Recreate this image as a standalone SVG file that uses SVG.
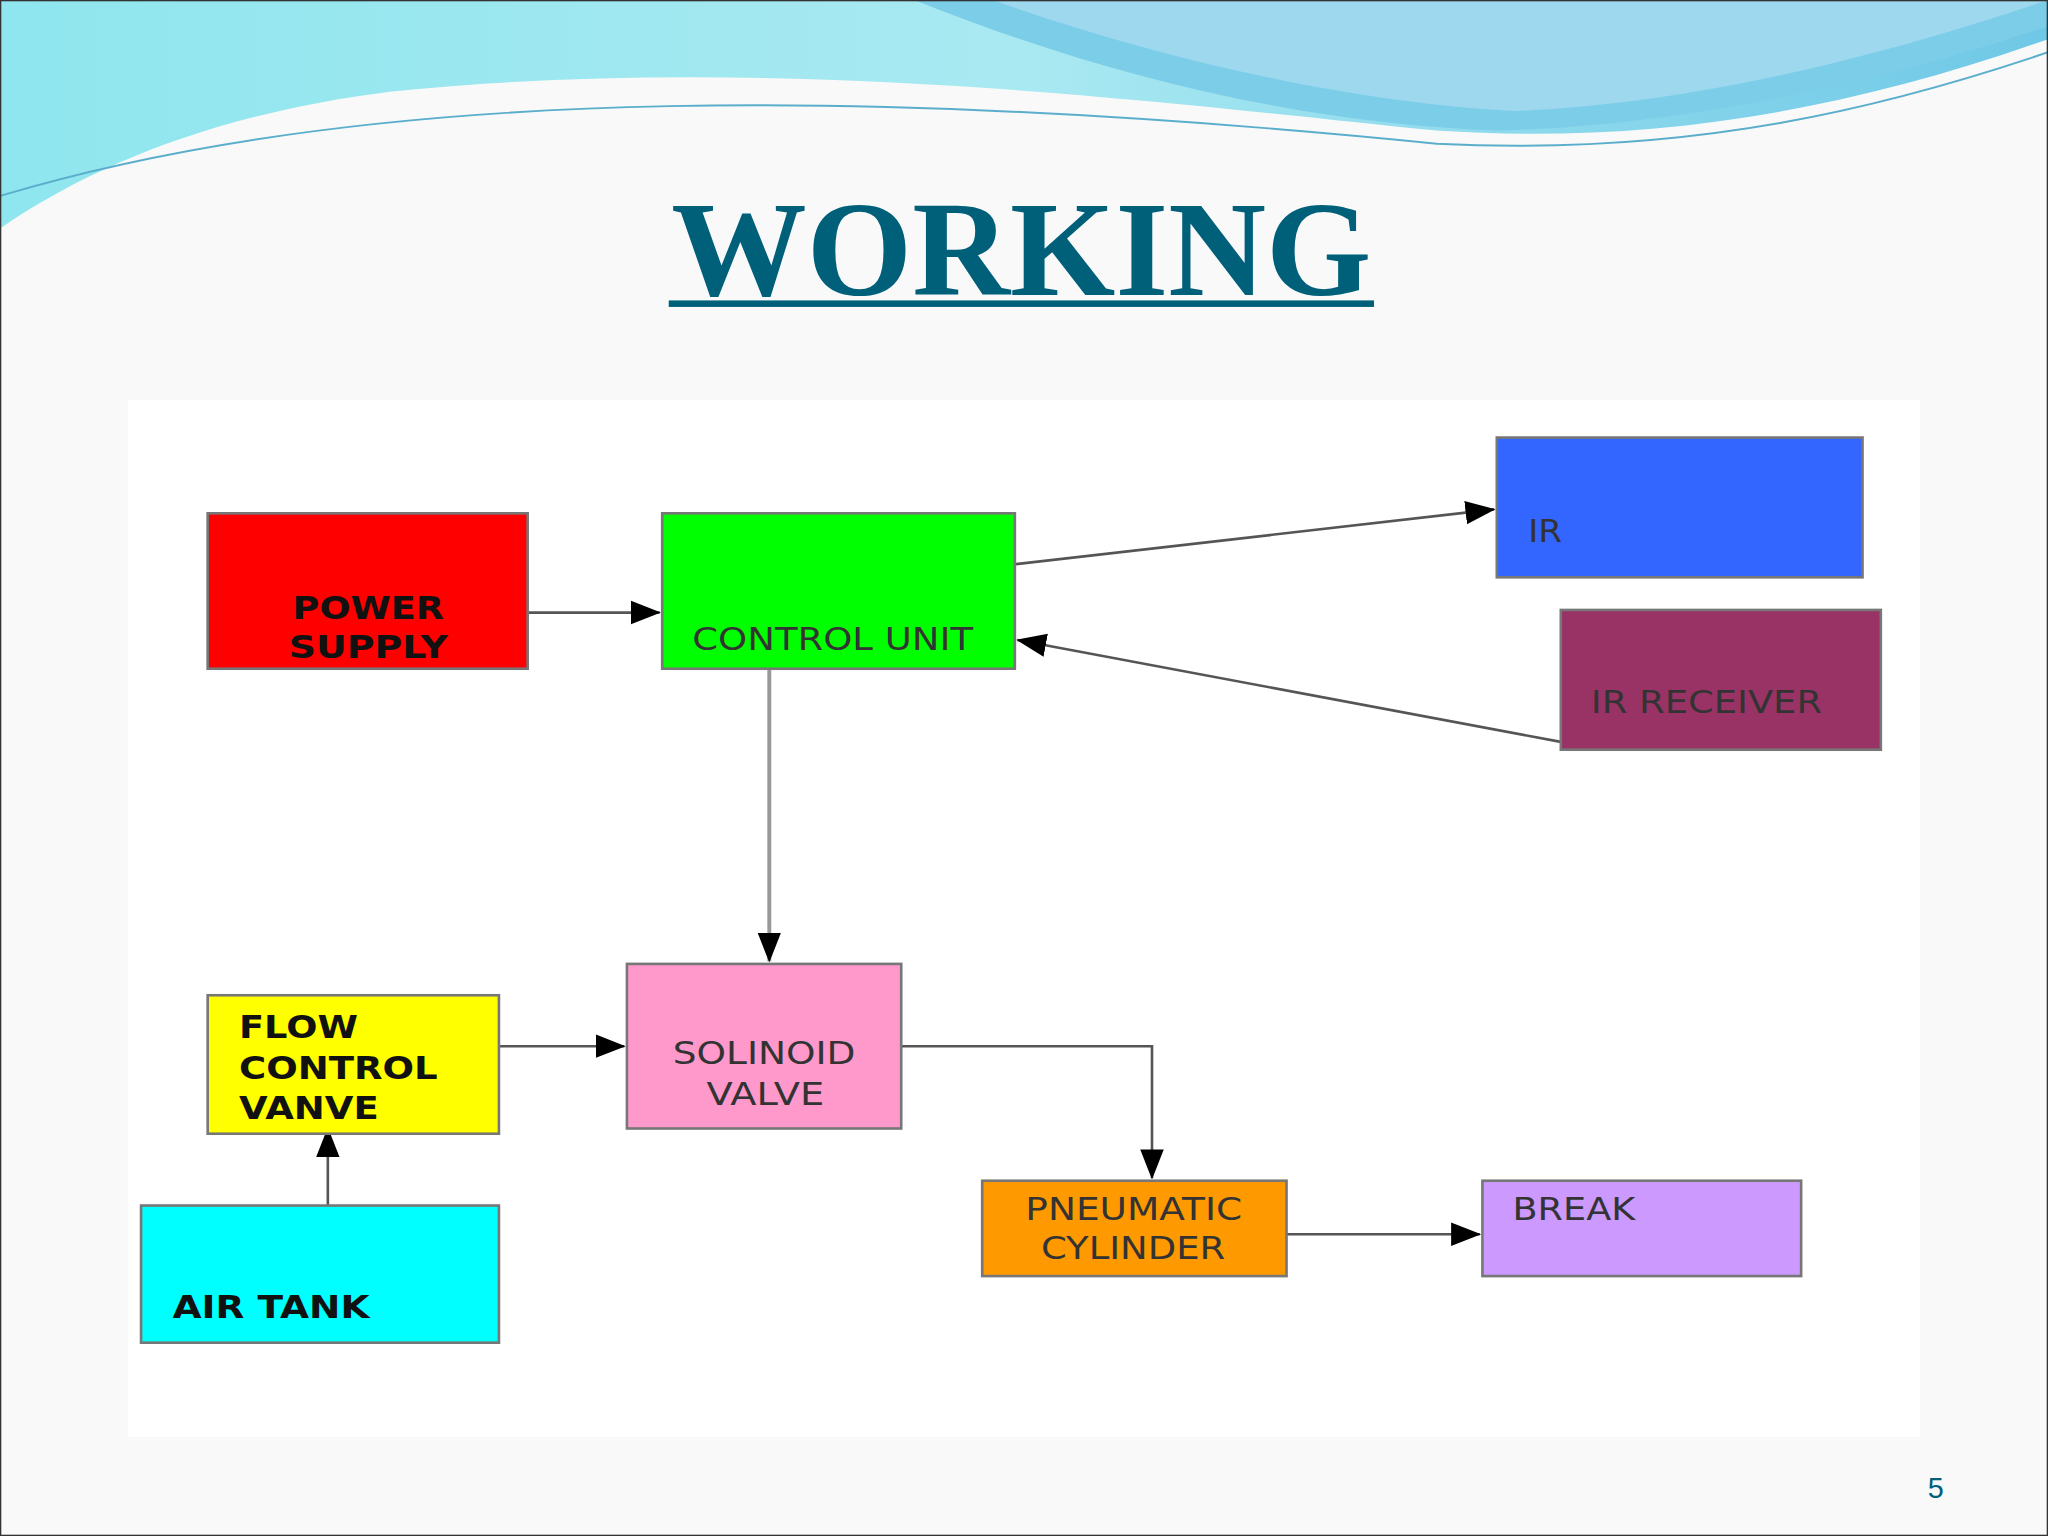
<svg xmlns="http://www.w3.org/2000/svg" width="2048" height="1536" viewBox="0 0 2048 1536">
<defs>
<linearGradient id="wv" x1="0" y1="0" x2="1" y2="0"><stop offset="0" stop-color="#8fe6ee"/><stop offset="0.5" stop-color="#a9e9f2"/><stop offset="1" stop-color="#6fc8e6"/></linearGradient>
<marker id="ah" markerWidth="24" markerHeight="20" refX="22" refY="10" orient="auto" markerUnits="userSpaceOnUse" viewBox="0 0 24 20"><path d="M0,1 L23,10 L0,19 z" fill="#000"/></marker>
</defs>
<style>
.n{stroke:#777;stroke-width:2}
.t{font-family:"DejaVu Sans",sans-serif;font-size:24px;fill:#333}
.b{font-family:"DejaVu Sans",sans-serif;font-size:24px;font-weight:bold;fill:#111}
.c{stroke:#555;stroke-width:2;fill:none}
.g{stroke:#999;stroke-width:3;fill:none}
</style>
<g transform="scale(1.306122)">
<rect x="0" y="0" width="1568" height="1176" fill="#f9f9fa"/>
<path d="M0,0 H1568 V30 C1400,90 1250,110 1100,100 C900,80 600,40 300,70 C180,85 80,120 0,175 Z" fill="url(#wv)"/>
<path d="M700,0 C850,60 1000,95 1150,100 C1300,95 1450,60 1568,20 V0 Z" fill="#7ccde8"/>
<path d="M760,0 C900,50 1050,80 1160,85 C1300,80 1450,40 1568,0 Z" fill="#9ed8ee"/>
<path d="M0,150 C300,60 700,70 1100,110 C1300,120 1450,80 1568,40" stroke="#5aaecc" stroke-width="1.5" fill="none"/>
<rect x="0.5" y="0.5" width="1567" height="1175" fill="none" stroke="#333" stroke-width="1"/>
<text x="782" y="226" text-anchor="middle" font-family="Liberation Serif,serif" font-weight="bold" font-size="104" fill="#00607a" textLength="536" lengthAdjust="spacingAndGlyphs">WORKING</text>
<rect x="512" y="230" width="540" height="5" fill="#00607a"/>
<rect x="98" y="306" width="1372" height="794" fill="#ffffff"/>
<g id="connectors">
<line class="c" x1="404" y1="469" x2="505" y2="469" marker-end="url(#ah)"/>
<line class="c" x1="777" y1="432" x2="1144" y2="390" marker-end="url(#ah)"/>
<line class="c" x1="1195" y1="568" x2="779" y2="490" marker-end="url(#ah)"/>
<line class="g" x1="589" y1="512" x2="589" y2="736" marker-end="url(#ah)"/>
<line class="c" x1="382" y1="801" x2="478" y2="801" marker-end="url(#ah)"/>
<polyline class="c" points="690,801 882,801 882,902" marker-end="url(#ah)"/>
<line class="c" x1="251" y1="923" x2="251" y2="864" marker-end="url(#ah)"/>
<line class="c" x1="985" y1="945" x2="1133" y2="945" marker-end="url(#ah)"/>
</g>
<g id="power"><rect class="n" x="159" y="393" width="245" height="119" fill="#ff0000"/><text class="b" x="224" y="474" textLength="116" lengthAdjust="spacingAndGlyphs" fill="#551111">POWER</text><text class="b" x="221" y="504" textLength="122" lengthAdjust="spacingAndGlyphs">SUPPLY</text></g>
<g id="control"><rect class="n" x="507" y="393" width="270" height="119" fill="#00ff00"/><text class="t" x="530" y="498" textLength="215" lengthAdjust="spacingAndGlyphs">CONTROL UNIT</text></g>
<g id="ir"><rect class="n" x="1146" y="335" width="280" height="107" fill="#3366ff"/><text class="t" x="1170" y="415" textLength="26" lengthAdjust="spacingAndGlyphs">IR</text></g>
<g id="irr"><rect class="n" x="1195" y="467" width="245" height="107" fill="#993366"/><text class="t" x="1218" y="546" textLength="177" lengthAdjust="spacingAndGlyphs" fill="#6a3060">IR RECEIVER</text></g>
<g id="solenoid"><rect class="n" x="480" y="738" width="210" height="126" fill="#ff99cc"/><text class="t" x="515" y="815" textLength="140" lengthAdjust="spacingAndGlyphs">SOLINOID</text><text class="t" x="541" y="846" textLength="90" lengthAdjust="spacingAndGlyphs">VALVE</text></g>
<g id="flow"><rect class="n" x="159" y="762" width="223" height="106" fill="#ffff00"/><text class="b" x="183" y="795" textLength="91" lengthAdjust="spacingAndGlyphs">FLOW</text><text class="b" x="183" y="826" textLength="152" lengthAdjust="spacingAndGlyphs">CONTROL</text><text class="b" x="183" y="857" textLength="107" lengthAdjust="spacingAndGlyphs">VANVE</text></g>
<g id="air"><rect class="n" x="108" y="923" width="274" height="105" fill="#00ffff"/><text class="b" x="132" y="1009" textLength="151" lengthAdjust="spacingAndGlyphs">AIR TANK</text></g>
<g id="cyl"><rect class="n" x="752" y="904" width="233" height="73" fill="#ff9900"/><text class="t" x="785" y="934" textLength="166" lengthAdjust="spacingAndGlyphs">PNEUMATIC</text><text class="t" x="797" y="964" textLength="141" lengthAdjust="spacingAndGlyphs">CYLINDER</text></g>
<g id="break"><rect class="n" x="1135" y="904" width="244" height="73" fill="#cc99ff"/><text class="t" x="1158" y="934" textLength="94" lengthAdjust="spacingAndGlyphs">BREAK</text></g>
<text x="1482" y="1147" text-anchor="middle" font-family="Liberation Sans,sans-serif" font-size="22" fill="#00607a">5</text>
</g>
</svg>
